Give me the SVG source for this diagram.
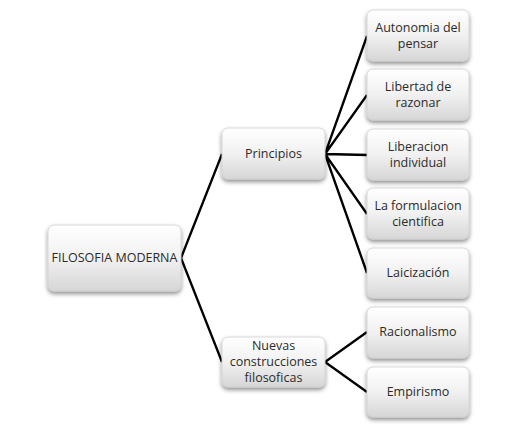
<svg xmlns="http://www.w3.org/2000/svg" width="510" height="437" viewBox="0 0 510 437">
<defs>
<linearGradient id="g" x1="0" y1="0" x2="0" y2="1">
<stop offset="0" stop-color="#ffffff"/>
<stop offset="0.5" stop-color="#f1f1f1"/>
<stop offset="1" stop-color="#d6d6d6"/>
</linearGradient>
<filter id="sh" x="-20%" y="-20%" width="140%" height="150%">
<feDropShadow dx="0" dy="2.5" stdDeviation="2" flood-color="#000" flood-opacity="0.45"/>
</filter>
</defs>
<style>
.box{fill:url(#g);stroke:#cfcfcf;stroke-width:0.8;filter:url(#sh)}
.t{font-family:"Open Sans","Liberation Sans",sans-serif;font-size:12.5px;fill:#2b2b2b;text-anchor:middle}
.c{stroke:#000;stroke-width:2.3;fill:none}
</style>
<rect width="510" height="437" fill="#fff"/>
<g id="connectors">
<path class="c" d="M181,258 L222,154 M181,258 L222,362"/>
<path class="c" d="M325,154 L367,36 M325,154 L367,95 M325,154 L367,155 M325,154 L367,214 M325,154 L367,273"/>
<path class="c" d="M325,362 L367,332 M325,362 L367,392"/>
</g>
<g id="root"><rect class="box" x="48" y="225" width="133" height="66" rx="6"/><text class="t" x="114.5" y="262">FILOSOFIA MODERNA</text></g>
<g id="principios"><rect class="box" x="222" y="128" width="103" height="51" rx="6"/><text class="t" x="273.5" y="158">Principios</text></g>
<g id="nuevas"><rect class="box" x="222" y="337" width="103" height="50" rx="6"/><text class="t" x="273.5" y="350">Nuevas</text><text class="t" x="273.5" y="366">construcciones</text><text class="t" x="273.5" y="382">filosoficas</text></g>
<g id="autonomia"><rect class="box" x="367" y="10" width="102" height="51" rx="6"/><text class="t" x="418" y="32">Autonomia del</text><text class="t" x="418" y="48">pensar</text></g>
<g id="libertad"><rect class="box" x="367" y="69" width="102" height="51" rx="6"/><text class="t" x="418" y="91">Libertad de</text><text class="t" x="418" y="107">razonar</text></g>
<g id="liberacion"><rect class="box" x="367" y="129" width="102" height="51" rx="6"/><text class="t" x="418" y="151">Liberacion</text><text class="t" x="418" y="167">individual</text></g>
<g id="formulacion"><rect class="box" x="367" y="188" width="102" height="51" rx="6"/><text class="t" x="418" y="210">La formulacion</text><text class="t" x="418" y="226">cientifica</text></g>
<g id="laicizacion"><rect class="box" x="367" y="248" width="102" height="50" rx="6"/><text class="t" x="418" y="277">Laicización</text></g>
<g id="racionalismo"><rect class="box" x="367" y="307" width="102" height="51" rx="6"/><text class="t" x="418" y="336">Racionalismo</text></g>
<g id="empirismo"><rect class="box" x="367" y="367" width="102" height="50" rx="6"/><text class="t" x="418" y="396">Empirismo</text></g>
</svg>
